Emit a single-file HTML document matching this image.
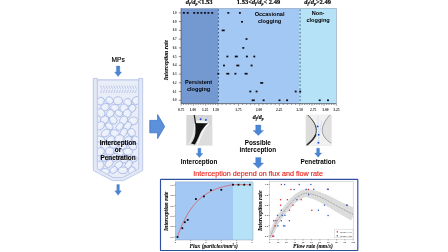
<!DOCTYPE html>
<html><head><meta charset="utf-8"><title>Graphical abstract</title>
<style>html,body{margin:0;padding:0;background:#fff}body{width:448px;height:252px;overflow:hidden}svg{display:block}text{white-space:pre}</style></head><body>
<svg width="448" height="252" viewBox="0 0 448 252">
<rect width="448" height="252" fill="#fff"/>
<g id="column">
<path d="M93.3 78.4 H97.2 V80 H138.8 V78.4 H142.7 V170.5 L123.5 180.6 H112.5 L93.3 170.5 Z" fill="#e3e8f6" stroke="#a6b5e0" stroke-width="0.65"/>
<path d="M97.3 80 H138.7 V168.8 L122.6 177.6 H113.4 L97.3 168.8 Z" fill="#e9edf8" stroke="#9fb0dd" stroke-width="0.6"/>
<path d="M100.50 85.6 l1.6 3.2 M100.50 93 l1.6 -3.2" stroke="#a9b9e3" stroke-width="0.7" fill="none"/>
<path d="M103.15 85.6 l1.6 3.2 M103.15 93 l1.6 -3.2" stroke="#a9b9e3" stroke-width="0.7" fill="none"/>
<path d="M105.80 85.6 l1.6 3.2 M105.80 93 l1.6 -3.2" stroke="#a9b9e3" stroke-width="0.7" fill="none"/>
<path d="M108.45 85.6 l1.6 3.2 M108.45 93 l1.6 -3.2" stroke="#a9b9e3" stroke-width="0.7" fill="none"/>
<path d="M111.10 85.6 l1.6 3.2 M111.10 93 l1.6 -3.2" stroke="#a9b9e3" stroke-width="0.7" fill="none"/>
<path d="M113.75 85.6 l1.6 3.2 M113.75 93 l1.6 -3.2" stroke="#a9b9e3" stroke-width="0.7" fill="none"/>
<path d="M116.40 85.6 l1.6 3.2 M116.40 93 l1.6 -3.2" stroke="#a9b9e3" stroke-width="0.7" fill="none"/>
<path d="M119.05 85.6 l1.6 3.2 M119.05 93 l1.6 -3.2" stroke="#a9b9e3" stroke-width="0.7" fill="none"/>
<path d="M121.70 85.6 l1.6 3.2 M121.70 93 l1.6 -3.2" stroke="#a9b9e3" stroke-width="0.7" fill="none"/>
<path d="M124.35 85.6 l1.6 3.2 M124.35 93 l1.6 -3.2" stroke="#a9b9e3" stroke-width="0.7" fill="none"/>
<path d="M127.00 85.6 l1.6 3.2 M127.00 93 l1.6 -3.2" stroke="#a9b9e3" stroke-width="0.7" fill="none"/>
<path d="M129.65 85.6 l1.6 3.2 M129.65 93 l1.6 -3.2" stroke="#a9b9e3" stroke-width="0.7" fill="none"/>
<path d="M132.30 85.6 l1.6 3.2 M132.30 93 l1.6 -3.2" stroke="#a9b9e3" stroke-width="0.7" fill="none"/>
<path d="M134.95 85.6 l1.6 3.2 M134.95 93 l1.6 -3.2" stroke="#a9b9e3" stroke-width="0.7" fill="none"/>
<defs><radialGradient id="pg" cx="0.42" cy="0.4" r="0.62"><stop offset="0" stop-color="#f1f4fb"/><stop offset="0.7" stop-color="#eaeef9"/><stop offset="1" stop-color="#d6def3"/></radialGradient></defs>
<clipPath id="cpc"><path d="M98.0 96 H138.0 V168.6 L122.4 177.0 H113.6 L98.0 168.6 Z"/></clipPath>
<g clip-path="url(#cpc)">
<ellipse cx="100.7" cy="101.1" rx="4.0" ry="3.6" transform="rotate(-56 100.7 101.1)" fill="url(#pg)" stroke="#9bb0e2" stroke-width="0.65"/>
<ellipse cx="109.6" cy="100.5" rx="4.0" ry="3.5" transform="rotate(39 109.6 100.5)" fill="url(#pg)" stroke="#9bb0e2" stroke-width="0.65"/>
<ellipse cx="118.0" cy="100.8" rx="4.6" ry="4.0" transform="rotate(9 118.0 100.8)" fill="url(#pg)" stroke="#9bb0e2" stroke-width="0.65"/>
<ellipse cx="127.7" cy="102.4" rx="4.0" ry="3.9" transform="rotate(-25 127.7 102.4)" fill="url(#pg)" stroke="#9bb0e2" stroke-width="0.65"/>
<ellipse cx="136.3" cy="100.6" rx="4.2" ry="3.9" transform="rotate(-38 136.3 100.6)" fill="url(#pg)" stroke="#9bb0e2" stroke-width="0.65"/>
<ellipse cx="105.0" cy="107.3" rx="4.5" ry="3.5" transform="rotate(-24 105.0 107.3)" fill="url(#pg)" stroke="#9bb0e2" stroke-width="0.65"/>
<ellipse cx="114.8" cy="108.1" rx="4.2" ry="3.6" transform="rotate(3 114.8 108.1)" fill="url(#pg)" stroke="#9bb0e2" stroke-width="0.65"/>
<ellipse cx="124.1" cy="108.2" rx="4.2" ry="4.1" transform="rotate(-46 124.1 108.2)" fill="url(#pg)" stroke="#9bb0e2" stroke-width="0.65"/>
<ellipse cx="132.3" cy="108.2" rx="4.1" ry="3.5" transform="rotate(-55 132.3 108.2)" fill="url(#pg)" stroke="#9bb0e2" stroke-width="0.65"/>
<ellipse cx="100.9" cy="113.1" rx="4.7" ry="3.7" transform="rotate(59 100.9 113.1)" fill="url(#pg)" stroke="#9bb0e2" stroke-width="0.65"/>
<ellipse cx="110.3" cy="113.6" rx="4.3" ry="3.7" transform="rotate(-57 110.3 113.6)" fill="url(#pg)" stroke="#9bb0e2" stroke-width="0.65"/>
<ellipse cx="118.7" cy="113.3" rx="4.0" ry="3.1" transform="rotate(32 118.7 113.3)" fill="url(#pg)" stroke="#9bb0e2" stroke-width="0.65"/>
<ellipse cx="127.2" cy="113.5" rx="4.3" ry="4.0" transform="rotate(-50 127.2 113.5)" fill="url(#pg)" stroke="#9bb0e2" stroke-width="0.65"/>
<ellipse cx="104.6" cy="119.8" rx="4.4" ry="3.6" transform="rotate(-28 104.6 119.8)" fill="url(#pg)" stroke="#9bb0e2" stroke-width="0.65"/>
<ellipse cx="113.3" cy="120.1" rx="4.3" ry="3.6" transform="rotate(54 113.3 120.1)" fill="url(#pg)" stroke="#9bb0e2" stroke-width="0.65"/>
<ellipse cx="123.7" cy="120.3" rx="4.6" ry="3.7" transform="rotate(-54 123.7 120.3)" fill="url(#pg)" stroke="#9bb0e2" stroke-width="0.65"/>
<ellipse cx="133.2" cy="120.9" rx="4.9" ry="3.9" transform="rotate(-13 133.2 120.9)" fill="url(#pg)" stroke="#9bb0e2" stroke-width="0.65"/>
<ellipse cx="100.3" cy="125.7" rx="4.9" ry="3.7" transform="rotate(-42 100.3 125.7)" fill="url(#pg)" stroke="#9bb0e2" stroke-width="0.65"/>
<ellipse cx="109.2" cy="126.3" rx="4.3" ry="3.1" transform="rotate(42 109.2 126.3)" fill="url(#pg)" stroke="#9bb0e2" stroke-width="0.65"/>
<ellipse cx="119.8" cy="126.5" rx="4.4" ry="3.1" transform="rotate(-48 119.8 126.5)" fill="url(#pg)" stroke="#9bb0e2" stroke-width="0.65"/>
<ellipse cx="127.6" cy="126.1" rx="4.8" ry="3.2" transform="rotate(-57 127.6 126.1)" fill="url(#pg)" stroke="#9bb0e2" stroke-width="0.65"/>
<ellipse cx="105.7" cy="133.0" rx="4.8" ry="3.4" transform="rotate(-33 105.7 133.0)" fill="url(#pg)" stroke="#9bb0e2" stroke-width="0.65"/>
<ellipse cx="114.9" cy="133.9" rx="4.8" ry="3.9" transform="rotate(38 114.9 133.9)" fill="url(#pg)" stroke="#9bb0e2" stroke-width="0.65"/>
<ellipse cx="123.8" cy="132.4" rx="4.5" ry="3.4" transform="rotate(-57 123.8 132.4)" fill="url(#pg)" stroke="#9bb0e2" stroke-width="0.65"/>
<ellipse cx="131.5" cy="132.5" rx="4.2" ry="3.8" transform="rotate(55 131.5 132.5)" fill="url(#pg)" stroke="#9bb0e2" stroke-width="0.65"/>
<ellipse cx="100.6" cy="139.5" rx="4.8" ry="3.1" transform="rotate(19 100.6 139.5)" fill="url(#pg)" stroke="#9bb0e2" stroke-width="0.65"/>
<ellipse cx="110.5" cy="139.8" rx="4.7" ry="3.5" transform="rotate(-39 110.5 139.8)" fill="url(#pg)" stroke="#9bb0e2" stroke-width="0.65"/>
<ellipse cx="119.4" cy="138.9" rx="4.8" ry="4.1" transform="rotate(-12 119.4 138.9)" fill="url(#pg)" stroke="#9bb0e2" stroke-width="0.65"/>
<ellipse cx="127.7" cy="140.1" rx="4.7" ry="3.2" transform="rotate(-45 127.7 140.1)" fill="url(#pg)" stroke="#9bb0e2" stroke-width="0.65"/>
<ellipse cx="136.3" cy="140.0" rx="4.8" ry="3.2" transform="rotate(39 136.3 140.0)" fill="url(#pg)" stroke="#9bb0e2" stroke-width="0.65"/>
<ellipse cx="105.2" cy="146.4" rx="4.4" ry="4.0" transform="rotate(39 105.2 146.4)" fill="url(#pg)" stroke="#9bb0e2" stroke-width="0.65"/>
<ellipse cx="113.7" cy="145.0" rx="4.2" ry="3.3" transform="rotate(10 113.7 145.0)" fill="url(#pg)" stroke="#9bb0e2" stroke-width="0.65"/>
<ellipse cx="122.9" cy="145.3" rx="4.0" ry="4.0" transform="rotate(-18 122.9 145.3)" fill="url(#pg)" stroke="#9bb0e2" stroke-width="0.65"/>
<ellipse cx="132.4" cy="145.7" rx="4.9" ry="3.5" transform="rotate(50 132.4 145.7)" fill="url(#pg)" stroke="#9bb0e2" stroke-width="0.65"/>
<ellipse cx="100.3" cy="151.8" rx="4.5" ry="3.9" transform="rotate(-47 100.3 151.8)" fill="url(#pg)" stroke="#9bb0e2" stroke-width="0.65"/>
<ellipse cx="109.8" cy="151.3" rx="4.2" ry="3.8" transform="rotate(1 109.8 151.3)" fill="url(#pg)" stroke="#9bb0e2" stroke-width="0.65"/>
<ellipse cx="118.9" cy="152.3" rx="4.9" ry="3.5" transform="rotate(14 118.9 152.3)" fill="url(#pg)" stroke="#9bb0e2" stroke-width="0.65"/>
<ellipse cx="127.9" cy="151.8" rx="4.7" ry="3.5" transform="rotate(4 127.9 151.8)" fill="url(#pg)" stroke="#9bb0e2" stroke-width="0.65"/>
<ellipse cx="104.3" cy="157.6" rx="4.0" ry="3.7" transform="rotate(34 104.3 157.6)" fill="url(#pg)" stroke="#9bb0e2" stroke-width="0.65"/>
<ellipse cx="115.0" cy="157.4" rx="4.7" ry="3.7" transform="rotate(-43 115.0 157.4)" fill="url(#pg)" stroke="#9bb0e2" stroke-width="0.65"/>
<ellipse cx="124.1" cy="159.0" rx="4.1" ry="4.0" transform="rotate(-12 124.1 159.0)" fill="url(#pg)" stroke="#9bb0e2" stroke-width="0.65"/>
<ellipse cx="132.4" cy="159.1" rx="4.8" ry="3.2" transform="rotate(-8 132.4 159.1)" fill="url(#pg)" stroke="#9bb0e2" stroke-width="0.65"/>
<ellipse cx="99.7" cy="165.4" rx="4.8" ry="4.1" transform="rotate(-47 99.7 165.4)" fill="url(#pg)" stroke="#9bb0e2" stroke-width="0.65"/>
<ellipse cx="109.2" cy="163.5" rx="4.8" ry="3.3" transform="rotate(-44 109.2 163.5)" fill="url(#pg)" stroke="#9bb0e2" stroke-width="0.65"/>
<ellipse cx="118.6" cy="165.2" rx="4.8" ry="3.3" transform="rotate(-42 118.6 165.2)" fill="url(#pg)" stroke="#9bb0e2" stroke-width="0.65"/>
<ellipse cx="128.7" cy="164.5" rx="4.7" ry="3.1" transform="rotate(-53 128.7 164.5)" fill="url(#pg)" stroke="#9bb0e2" stroke-width="0.65"/>
<ellipse cx="105.3" cy="171.6" rx="4.2" ry="3.1" transform="rotate(3 105.3 171.6)" fill="url(#pg)" stroke="#9bb0e2" stroke-width="0.65"/>
<ellipse cx="113.7" cy="169.9" rx="4.1" ry="3.1" transform="rotate(-36 113.7 169.9)" fill="url(#pg)" stroke="#9bb0e2" stroke-width="0.65"/>
<ellipse cx="123.0" cy="170.3" rx="4.7" ry="3.3" transform="rotate(0 123.0 170.3)" fill="url(#pg)" stroke="#9bb0e2" stroke-width="0.65"/>
<ellipse cx="131.8" cy="170.4" rx="3.9" ry="3.3" transform="rotate(-58 131.8 170.4)" fill="url(#pg)" stroke="#9bb0e2" stroke-width="0.65"/>
</g>
</g>
<text x="118.2" y="62.2" font-size="6.6" text-anchor="middle" font-family="Liberation Sans, sans-serif" fill="#000" stroke="#000" stroke-width="0.15">MPs</text>
<polygon points="116.40,66.00 119.80,66.00 119.80,72.00 121.60,72.00 118.10,76.60 114.60,72.00 116.40,72.00" fill="#4a86d4" stroke="#3a72c0" stroke-width="0.3"/>
<polygon points="116.80,184.60 119.40,184.60 119.40,190.80 121.40,190.80 118.10,195.20 114.80,190.80 116.80,190.80" fill="#4a86d4" stroke="#3a72c0" stroke-width="0.3"/>
<text x="118" y="144.6" font-size="6.4" font-weight="bold" text-anchor="middle" font-family="Liberation Sans, sans-serif" fill="#000" stroke="#000" stroke-width="0.12">Interception</text>
<text x="118" y="152.0" font-size="6.4" font-weight="bold" text-anchor="middle" font-family="Liberation Sans, sans-serif" fill="#000" stroke="#000" stroke-width="0.12">or</text>
<text x="118" y="159.6" font-size="6.4" font-weight="bold" text-anchor="middle" font-family="Liberation Sans, sans-serif" fill="#000" stroke="#000" stroke-width="0.12">Penetration</text>
<polygon points="149.8,120.4 157.6,120.4 157.6,114.6 164.7,126.6 157.6,138.6 157.6,132.8 149.8,132.8" fill="#5b90da" stroke="#3f74c4" stroke-width="0.8" stroke-linejoin="miter"/>
<g id="topchart">
<rect x="181.1" y="8.4" width="36.9" height="95.3" fill="#7499d1"/>
<rect x="218.0" y="8.4" width="81.7" height="95.3" fill="#a3c8f3"/>
<rect x="299.7" y="8.4" width="36.7" height="95.3" fill="#b5e2f7"/>
<rect x="181.1" y="8.4" width="155.3" height="95.3" fill="none" stroke="#7f8fa8" stroke-width="0.5"/>
<line x1="218.45" y1="9.4" x2="218.45" y2="103.7" stroke="#34507f" stroke-width="0.95" stroke-dasharray="1.7 2.05"/>
<line x1="300.05" y1="9.4" x2="300.05" y2="103.7" stroke="#3d5878" stroke-width="0.95" stroke-dasharray="1.7 2.05"/>
<line x1="181.1" y1="8.4" x2="181.1" y2="103.7" stroke="#333" stroke-width="0.5"/>
<line x1="181.1" y1="103.7" x2="336.4" y2="103.7" stroke="#333" stroke-width="0.5"/>
<line x1="178.8" y1="100.30" x2="181.1" y2="100.30" stroke="#222" stroke-width="0.5"/>
<text x="176.6" y="101.35" font-size="3.1" font-weight="bold" text-anchor="end" font-family="Liberation Serif, serif" fill="#222">0.0</text>
<line x1="178.8" y1="91.56" x2="181.1" y2="91.56" stroke="#222" stroke-width="0.5"/>
<text x="176.6" y="92.61" font-size="3.1" font-weight="bold" text-anchor="end" font-family="Liberation Serif, serif" fill="#222">0.1</text>
<line x1="178.8" y1="82.82" x2="181.1" y2="82.82" stroke="#222" stroke-width="0.5"/>
<text x="176.6" y="83.87" font-size="3.1" font-weight="bold" text-anchor="end" font-family="Liberation Serif, serif" fill="#222">0.2</text>
<line x1="178.8" y1="74.08" x2="181.1" y2="74.08" stroke="#222" stroke-width="0.5"/>
<text x="176.6" y="75.13" font-size="3.1" font-weight="bold" text-anchor="end" font-family="Liberation Serif, serif" fill="#222">0.3</text>
<line x1="178.8" y1="65.34" x2="181.1" y2="65.34" stroke="#222" stroke-width="0.5"/>
<text x="176.6" y="66.39" font-size="3.1" font-weight="bold" text-anchor="end" font-family="Liberation Serif, serif" fill="#222">0.4</text>
<line x1="178.8" y1="56.60" x2="181.1" y2="56.60" stroke="#222" stroke-width="0.5"/>
<text x="176.6" y="57.65" font-size="3.1" font-weight="bold" text-anchor="end" font-family="Liberation Serif, serif" fill="#222">0.5</text>
<line x1="178.8" y1="47.86" x2="181.1" y2="47.86" stroke="#222" stroke-width="0.5"/>
<text x="176.6" y="48.91" font-size="3.1" font-weight="bold" text-anchor="end" font-family="Liberation Serif, serif" fill="#222">0.6</text>
<line x1="178.8" y1="39.12" x2="181.1" y2="39.12" stroke="#222" stroke-width="0.5"/>
<text x="176.6" y="40.17" font-size="3.1" font-weight="bold" text-anchor="end" font-family="Liberation Serif, serif" fill="#222">0.7</text>
<line x1="178.8" y1="30.38" x2="181.1" y2="30.38" stroke="#222" stroke-width="0.5"/>
<text x="176.6" y="31.43" font-size="3.1" font-weight="bold" text-anchor="end" font-family="Liberation Serif, serif" fill="#222">0.8</text>
<line x1="178.8" y1="21.64" x2="181.1" y2="21.64" stroke="#222" stroke-width="0.5"/>
<text x="176.6" y="22.69" font-size="3.1" font-weight="bold" text-anchor="end" font-family="Liberation Serif, serif" fill="#222">0.9</text>
<line x1="178.8" y1="12.90" x2="181.1" y2="12.90" stroke="#222" stroke-width="0.5"/>
<text x="176.6" y="13.95" font-size="3.1" font-weight="bold" text-anchor="end" font-family="Liberation Serif, serif" fill="#222">1.0</text>
<line x1="181.10" y1="103.7" x2="181.10" y2="105.8" stroke="#222" stroke-width="0.4"/>
<text x="181.10" y="111.35" font-size="3.6" font-weight="bold" text-anchor="middle" font-family="Liberation Serif, serif" fill="#222">0.75</text>
<line x1="183.56" y1="103.7" x2="183.56" y2="105.0" stroke="#222" stroke-width="0.4"/>
<line x1="186.02" y1="103.7" x2="186.02" y2="105.0" stroke="#222" stroke-width="0.4"/>
<line x1="188.48" y1="103.7" x2="188.48" y2="105.0" stroke="#222" stroke-width="0.4"/>
<line x1="190.94" y1="103.7" x2="190.94" y2="105.0" stroke="#222" stroke-width="0.4"/>
<line x1="193.40" y1="103.7" x2="193.40" y2="105.8" stroke="#222" stroke-width="0.4"/>
<text x="192.90" y="111.35" font-size="3.6" font-weight="bold" text-anchor="middle" font-family="Liberation Serif, serif" fill="#222">1.00</text>
<line x1="195.86" y1="103.7" x2="195.86" y2="105.0" stroke="#222" stroke-width="0.4"/>
<line x1="198.32" y1="103.7" x2="198.32" y2="105.0" stroke="#222" stroke-width="0.4"/>
<line x1="200.78" y1="103.7" x2="200.78" y2="105.0" stroke="#222" stroke-width="0.4"/>
<line x1="203.24" y1="103.7" x2="203.24" y2="105.0" stroke="#222" stroke-width="0.4"/>
<line x1="205.70" y1="103.7" x2="205.70" y2="105.8" stroke="#222" stroke-width="0.4"/>
<text x="205.20" y="111.35" font-size="3.6" font-weight="bold" text-anchor="middle" font-family="Liberation Serif, serif" fill="#222">1.25</text>
<line x1="208.16" y1="103.7" x2="208.16" y2="105.0" stroke="#222" stroke-width="0.4"/>
<line x1="210.62" y1="103.7" x2="210.62" y2="105.0" stroke="#222" stroke-width="0.4"/>
<line x1="213.08" y1="103.7" x2="213.08" y2="105.0" stroke="#222" stroke-width="0.4"/>
<line x1="215.54" y1="103.7" x2="215.54" y2="105.0" stroke="#222" stroke-width="0.4"/>
<line x1="218.00" y1="103.7" x2="218.00" y2="105.8" stroke="#222" stroke-width="0.4"/>
<text x="216.00" y="111.35" font-size="3.6" font-weight="bold" text-anchor="middle" font-family="Liberation Serif, serif" fill="#222">1.50</text>
<line x1="222.09" y1="103.7" x2="222.09" y2="105.0" stroke="#222" stroke-width="0.4"/>
<line x1="226.17" y1="103.7" x2="226.17" y2="105.0" stroke="#222" stroke-width="0.4"/>
<line x1="230.25" y1="103.7" x2="230.25" y2="105.0" stroke="#222" stroke-width="0.4"/>
<line x1="234.34" y1="103.7" x2="234.34" y2="105.0" stroke="#222" stroke-width="0.4"/>
<line x1="238.43" y1="103.7" x2="238.43" y2="105.8" stroke="#222" stroke-width="0.4"/>
<text x="238.43" y="111.35" font-size="3.6" font-weight="bold" text-anchor="middle" font-family="Liberation Serif, serif" fill="#222">1.75</text>
<line x1="242.51" y1="103.7" x2="242.51" y2="105.0" stroke="#222" stroke-width="0.4"/>
<line x1="246.59" y1="103.7" x2="246.59" y2="105.0" stroke="#222" stroke-width="0.4"/>
<line x1="250.68" y1="103.7" x2="250.68" y2="105.0" stroke="#222" stroke-width="0.4"/>
<line x1="254.76" y1="103.7" x2="254.76" y2="105.0" stroke="#222" stroke-width="0.4"/>
<line x1="258.85" y1="103.7" x2="258.85" y2="105.8" stroke="#222" stroke-width="0.4"/>
<text x="258.85" y="111.35" font-size="3.6" font-weight="bold" text-anchor="middle" font-family="Liberation Serif, serif" fill="#222">2.00</text>
<line x1="262.94" y1="103.7" x2="262.94" y2="105.0" stroke="#222" stroke-width="0.4"/>
<line x1="267.02" y1="103.7" x2="267.02" y2="105.0" stroke="#222" stroke-width="0.4"/>
<line x1="271.10" y1="103.7" x2="271.10" y2="105.0" stroke="#222" stroke-width="0.4"/>
<line x1="275.19" y1="103.7" x2="275.19" y2="105.0" stroke="#222" stroke-width="0.4"/>
<line x1="279.27" y1="103.7" x2="279.27" y2="105.8" stroke="#222" stroke-width="0.4"/>
<text x="279.27" y="111.35" font-size="3.6" font-weight="bold" text-anchor="middle" font-family="Liberation Serif, serif" fill="#222">2.25</text>
<line x1="283.36" y1="103.7" x2="283.36" y2="105.0" stroke="#222" stroke-width="0.4"/>
<line x1="287.44" y1="103.7" x2="287.44" y2="105.0" stroke="#222" stroke-width="0.4"/>
<line x1="291.53" y1="103.7" x2="291.53" y2="105.0" stroke="#222" stroke-width="0.4"/>
<line x1="295.62" y1="103.7" x2="295.62" y2="105.0" stroke="#222" stroke-width="0.4"/>
<line x1="299.70" y1="103.7" x2="299.70" y2="105.8" stroke="#222" stroke-width="0.4"/>
<text x="299.70" y="111.35" font-size="3.6" font-weight="bold" text-anchor="middle" font-family="Liberation Serif, serif" fill="#222">2.50</text>
<line x1="302.15" y1="103.7" x2="302.15" y2="105.0" stroke="#222" stroke-width="0.4"/>
<line x1="304.59" y1="103.7" x2="304.59" y2="105.0" stroke="#222" stroke-width="0.4"/>
<line x1="307.04" y1="103.7" x2="307.04" y2="105.0" stroke="#222" stroke-width="0.4"/>
<line x1="309.49" y1="103.7" x2="309.49" y2="105.0" stroke="#222" stroke-width="0.4"/>
<line x1="311.93" y1="103.7" x2="311.93" y2="105.8" stroke="#222" stroke-width="0.4"/>
<text x="313.13" y="111.35" font-size="3.6" font-weight="bold" text-anchor="middle" font-family="Liberation Serif, serif" fill="#222">2.75</text>
<line x1="314.38" y1="103.7" x2="314.38" y2="105.0" stroke="#222" stroke-width="0.4"/>
<line x1="316.83" y1="103.7" x2="316.83" y2="105.0" stroke="#222" stroke-width="0.4"/>
<line x1="319.27" y1="103.7" x2="319.27" y2="105.0" stroke="#222" stroke-width="0.4"/>
<line x1="321.72" y1="103.7" x2="321.72" y2="105.0" stroke="#222" stroke-width="0.4"/>
<line x1="324.17" y1="103.7" x2="324.17" y2="105.8" stroke="#222" stroke-width="0.4"/>
<text x="325.47" y="111.35" font-size="3.6" font-weight="bold" text-anchor="middle" font-family="Liberation Serif, serif" fill="#222">3.00</text>
<line x1="326.61" y1="103.7" x2="326.61" y2="105.0" stroke="#222" stroke-width="0.4"/>
<line x1="329.06" y1="103.7" x2="329.06" y2="105.0" stroke="#222" stroke-width="0.4"/>
<line x1="331.51" y1="103.7" x2="331.51" y2="105.0" stroke="#222" stroke-width="0.4"/>
<line x1="333.95" y1="103.7" x2="333.95" y2="105.0" stroke="#222" stroke-width="0.4"/>
<line x1="336.40" y1="103.7" x2="336.40" y2="105.8" stroke="#222" stroke-width="0.4"/>
<text x="336.40" y="111.35" font-size="3.6" font-weight="bold" text-anchor="middle" font-family="Liberation Serif, serif" fill="#222">3.25</text>
<rect x="182.95" y="12.05" width="1.9" height="1.7" fill="#0a0a14"/>
<rect x="186.75" y="12.05" width="1.9" height="1.7" fill="#0a0a14"/>
<rect x="193.25" y="12.05" width="1.9" height="1.7" fill="#0a0a14"/>
<rect x="196.85" y="12.05" width="1.9" height="1.7" fill="#0a0a14"/>
<rect x="200.45" y="12.05" width="1.9" height="1.7" fill="#0a0a14"/>
<rect x="204.05" y="12.05" width="1.9" height="1.7" fill="#0a0a14"/>
<rect x="207.45" y="12.05" width="1.9" height="1.7" fill="#0a0a14"/>
<rect x="211.25" y="12.05" width="1.9" height="1.7" fill="#0a0a14"/>
<rect x="227.35" y="12.05" width="1.9" height="1.7" fill="#0a0a14"/>
<rect x="238.95" y="12.05" width="1.9" height="1.7" fill="#0a0a14"/>
<rect x="241.05" y="20.95" width="1.9" height="1.7" fill="#0a0a14"/>
<rect x="221.70" y="29.55" width="3.0" height="1.7" fill="#0a0a14"/>
<rect x="245.55" y="38.15" width="1.9" height="1.7" fill="#0a0a14"/>
<rect x="242.35" y="47.05" width="1.9" height="1.7" fill="#0a0a14"/>
<rect x="226.45" y="55.65" width="1.9" height="1.7" fill="#0a0a14"/>
<rect x="234.80" y="55.65" width="3.0" height="1.7" fill="#0a0a14"/>
<rect x="245.95" y="55.65" width="1.9" height="1.7" fill="#0a0a14"/>
<rect x="253.35" y="55.65" width="1.9" height="1.7" fill="#0a0a14"/>
<rect x="223.05" y="64.65" width="1.9" height="1.7" fill="#0a0a14"/>
<rect x="236.30" y="64.65" width="3.0" height="1.7" fill="#0a0a14"/>
<rect x="250.65" y="64.65" width="1.9" height="1.7" fill="#0a0a14"/>
<rect x="217.35" y="72.85" width="1.9" height="1.7" fill="#0a0a14"/>
<rect x="226.30" y="72.85" width="3.0" height="1.7" fill="#0a0a14"/>
<rect x="234.45" y="72.85" width="1.9" height="1.7" fill="#0a0a14"/>
<rect x="244.60" y="72.85" width="3.0" height="1.7" fill="#0a0a14"/>
<rect x="260.20" y="82.05" width="3.0" height="1.7" fill="#0a0a14"/>
<rect x="249.35" y="90.65" width="1.9" height="1.7" fill="#0a0a14"/>
<rect x="255.65" y="90.65" width="1.9" height="1.7" fill="#0a0a14"/>
<rect x="294.75" y="90.65" width="1.9" height="1.7" fill="#0a0a14"/>
<rect x="299.25" y="90.65" width="1.9" height="1.7" fill="#0a0a14"/>
<rect x="251.70" y="99.45" width="3.0" height="1.7" fill="#0a0a14"/>
<rect x="262.65" y="99.45" width="1.9" height="1.7" fill="#0a0a14"/>
<rect x="278.55" y="99.45" width="1.9" height="1.7" fill="#0a0a14"/>
<rect x="286.15" y="99.45" width="1.9" height="1.7" fill="#0a0a14"/>
<rect x="318.75" y="99.45" width="1.9" height="1.7" fill="#0a0a14"/>
<rect x="327.05" y="99.45" width="1.9" height="1.7" fill="#0a0a14"/>
<text x="198.6" y="84.0" font-size="5.6" font-weight="bold" text-anchor="middle" font-family="Liberation Sans, sans-serif" fill="#000">Persistent</text>
<text x="198.6" y="90.8" font-size="5.6" font-weight="bold" text-anchor="middle" font-family="Liberation Sans, sans-serif" fill="#000">clogging</text>
<text x="269.6" y="16.2" font-size="5.6" font-weight="bold" text-anchor="middle" font-family="Liberation Sans, sans-serif" fill="#000">Occasional</text>
<text x="269.6" y="22.9" font-size="5.6" font-weight="bold" text-anchor="middle" font-family="Liberation Sans, sans-serif" fill="#000">clogging</text>
<text x="318.1" y="15.0" font-size="5.6" font-weight="bold" text-anchor="middle" font-family="Liberation Sans, sans-serif" fill="#000">Non-</text>
<text x="318.1" y="21.5" font-size="5.6" font-weight="bold" text-anchor="middle" font-family="Liberation Sans, sans-serif" fill="#000">clogging</text>
<text x="199.2" y="4.4" font-size="6.5" font-weight="bold" text-anchor="middle" font-family="Liberation Serif, serif" fill="#0a0a0a" stroke="#0a0a0a" stroke-width="0.18"><tspan font-style="italic">d</tspan><tspan font-style="italic" font-size="4.0" dy="1.0">f</tspan><tspan dy="-1.0">/</tspan><tspan font-style="italic">d</tspan><tspan font-style="italic" font-size="4.0" dy="1.0">p</tspan><tspan dy="-1.0">&lt;1.53</tspan></text>
<text x="258.5" y="4.4" font-size="6.5" font-weight="bold" text-anchor="middle" font-family="Liberation Serif, serif" fill="#0a0a0a" stroke="#0a0a0a" stroke-width="0.18">1.53&lt;<tspan font-style="italic">d</tspan><tspan font-style="italic" font-size="4.0" dy="1.0">f</tspan><tspan dy="-1.0">/</tspan><tspan font-style="italic">d</tspan><tspan font-style="italic" font-size="4.0" dy="1.0">p</tspan><tspan dy="-1.0">&lt; 2.49</tspan></text>
<text x="317.6" y="4.4" font-size="6.5" font-weight="bold" text-anchor="middle" font-family="Liberation Serif, serif" fill="#0a0a0a" stroke="#0a0a0a" stroke-width="0.18"><tspan font-style="italic">d</tspan><tspan font-style="italic" font-size="4.0" dy="1.0">f</tspan><tspan dy="-1.0">/</tspan><tspan font-style="italic">d</tspan><tspan font-style="italic" font-size="4.0" dy="1.0">p</tspan><tspan dy="-1.0">&gt;2.49</tspan></text>
<text transform="translate(168.3 60) rotate(-90)" font-size="5.85" font-weight="bold" font-style="italic" text-anchor="middle" font-family="Liberation Serif, serif" fill="#0a0a0a" stroke="#0a0a0a" stroke-width="0.08">Interception rate</text>
<text x="258.2" y="119.4" font-size="6.0" font-weight="bold" text-anchor="middle" font-family="Liberation Serif, serif" fill="#0a0a0a" stroke="#0a0a0a" stroke-width="0.18"><tspan font-style="italic">d</tspan><tspan font-style="italic" font-size="3.7" dy="0.6">f</tspan><tspan dy="-0.6">/</tspan><tspan font-style="italic">d</tspan><tspan font-style="italic" font-size="3.7" dy="0.6">p</tspan><tspan dy="-0.6"></tspan></text>
</g>
<g id="micro1">
<rect x="186.3" y="115.0" width="25.9" height="30.4" fill="#d7d7d7"/>
<path d="M196 115 H212.2 V126.5 C207 128 203.5 133 200.5 145.2 H212.2 V115" fill="#e7e7e7"/>
<path d="M207 126.5 C203 131 199.8 138 197.6 145.2 H212.2 V125 Z" fill="#dddddd"/>
<path d="M208.8 123.6 C204.2 127.5 200.6 135.5 197.2 144.8" fill="none" stroke="#fafafa" stroke-width="1.3"/>
<path d="M194.6 124 C194.8 131 193 138 188.4 144.6" fill="none" stroke="#f4f4f4" stroke-width="1.0"/>
<path d="M194.3 115 C194.9 119 195.2 121.5 195.6 123.6" fill="none" stroke="#262626" stroke-width="1.3"/>
<path d="M195.2 123.0 L207.9 123.2 C204.5 126 201.8 130 200.1 133.5 C198.6 137 197.3 140.5 194.9 144.4 L191.0 143.6 C193.2 140.8 195.0 137.5 195.4 133.5 C195.7 130 195.6 126.5 195.2 123.0 Z" fill="#111"/>
<path d="M196.6 120.6 h10.6 v2.5 h-10.6z" fill="#f4f4f4"/>
<path d="M200.65 119.2 l2.0 -4 M205.9 120.0 l2.2 -4" stroke="#9cc0f0" stroke-width="0.6"/>
<circle cx="200.65" cy="119.3" r="1.0" fill="#1f4fd0"/><circle cx="205.9" cy="120.1" r="1.0" fill="#1f4fd0"/>
</g>
<polygon points="197.95,148.20 200.85,148.20 200.85,153.40 202.90,153.40 199.40,157.60 195.90,153.40 197.95,153.40" fill="#4a86d4" stroke="#3a72c0" stroke-width="0.3"/>
<text x="199.1" y="163.8" font-size="6.4" font-weight="bold" text-anchor="middle" font-family="Liberation Sans, sans-serif" fill="#000">Interception</text>
<g id="micro2">
<rect x="305.7" y="114.8" width="25.7" height="30.9" fill="#dcdcdc"/>
<path d="M331.4 114.8 H329.8 C326.5 119 322.3 124 322.3 130.5 C322.3 136 326.5 140.5 331.4 143.2 Z" fill="#e1e1e1"/>
<path d="M308.3 114.8 C312 119 316.3 124 316.3 130.5 C316.3 137 311 142 306.6 145.7 H331.4 V143.2 C326.5 140.5 322.3 136 322.3 130.5 C322.3 124 326.5 119 329.8 114.8 Z" fill="#f1f1f1"/>
<path d="M308.0 115.2 C311.8 119.3 316.3 124 316.3 130.5 C316.3 137 311 142 306.6 145.3" fill="none" stroke="#3c3c3c" stroke-width="1.0"/>
<path d="M315.9 134.5 C314.5 138.5 310.5 142 306.9 145" fill="none" stroke="#2a2a2a" stroke-width="1.5"/>
<path d="M329.8 115 C326.5 119 322.3 124 322.3 130.5 C322.3 136 326.5 140.5 331.2 143.1" fill="none" stroke="#8c8c8c" stroke-width="0.8"/>
<path d="M317.9 116 L318.9 143.5 M321.6 120.5 L319.6 134" stroke="#8fb8ee" stroke-width="0.5" stroke-dasharray="0.8 0.7"/>
<circle cx="317.6" cy="126.4" r="0.95" fill="#1f4fd0"/><circle cx="318.7" cy="134.7" r="0.95" fill="#1f4fd0"/><circle cx="318.4" cy="142.8" r="0.95" fill="#1f4fd0"/>
</g>
<polygon points="316.65,148.20 319.55,148.20 319.55,153.00 321.60,153.00 318.10,157.20 314.60,153.00 316.65,153.00" fill="#4a86d4" stroke="#3a72c0" stroke-width="0.3"/>
<text x="318.0" y="163.8" font-size="6.4" font-weight="bold" text-anchor="middle" font-family="Liberation Sans, sans-serif" fill="#000">Penetration</text>
<polygon points="255.70,125.10 260.90,125.10 260.90,130.40 263.60,130.40 258.30,135.60 253.00,130.40 255.70,130.40" fill="#4a86d4" stroke="#3a72c0" stroke-width="0.3"/>
<text x="257.8" y="144.8" font-size="6.4" font-weight="bold" text-anchor="middle" font-family="Liberation Sans, sans-serif" fill="#000">Possible</text>
<text x="257.8" y="152.1" font-size="6.4" font-weight="bold" text-anchor="middle" font-family="Liberation Sans, sans-serif" fill="#000">interception</text>
<polygon points="255.70,157.60 260.90,157.60 260.90,163.10 263.60,163.10 258.30,168.30 253.00,163.10 255.70,163.10" fill="#4a86d4" stroke="#3a72c0" stroke-width="0.3"/>
<text x="258.2" y="176.2" font-size="7.2" text-anchor="middle" font-family="Liberation Sans, sans-serif" fill="#ea1a12" stroke="#ea1a12" stroke-width="0.12">Interception depend on flux and flow rate</text>
<rect x="160.5" y="179.3" width="197.3" height="71.2" rx="0.6" fill="#fff" stroke="#2f4f9f" stroke-width="1.15"/>
<rect x="175.3" y="181.9" width="57.7" height="58.1" fill="#a3c8f3"/>
<rect x="233.0" y="181.9" width="20.0" height="58.1" fill="#b5e2f7"/>
<rect x="175.3" y="181.9" width="77.7" height="58.1" fill="none" stroke="#8a93a8" stroke-width="0.4"/>
<line x1="174.2" y1="236.90" x2="175.3" y2="236.90" stroke="#222" stroke-width="0.4"/>
<text x="173.7" y="237.70" font-size="2.7" font-weight="bold" text-anchor="end" font-family="Liberation Serif, serif" fill="#222">0.0</text>
<line x1="174.2" y1="226.52" x2="175.3" y2="226.52" stroke="#222" stroke-width="0.4"/>
<text x="173.7" y="227.32" font-size="2.7" font-weight="bold" text-anchor="end" font-family="Liberation Serif, serif" fill="#222">0.2</text>
<line x1="174.2" y1="216.14" x2="175.3" y2="216.14" stroke="#222" stroke-width="0.4"/>
<text x="173.7" y="216.94" font-size="2.7" font-weight="bold" text-anchor="end" font-family="Liberation Serif, serif" fill="#222">0.4</text>
<line x1="174.2" y1="205.76" x2="175.3" y2="205.76" stroke="#222" stroke-width="0.4"/>
<text x="173.7" y="206.56" font-size="2.7" font-weight="bold" text-anchor="end" font-family="Liberation Serif, serif" fill="#222">0.6</text>
<line x1="174.2" y1="195.38" x2="175.3" y2="195.38" stroke="#222" stroke-width="0.4"/>
<text x="173.7" y="196.18" font-size="2.7" font-weight="bold" text-anchor="end" font-family="Liberation Serif, serif" fill="#222">0.8</text>
<line x1="174.2" y1="185.00" x2="175.3" y2="185.00" stroke="#222" stroke-width="0.4"/>
<text x="173.7" y="185.80" font-size="2.7" font-weight="bold" text-anchor="end" font-family="Liberation Serif, serif" fill="#222">1.0</text>
<line x1="175.40" y1="240" x2="175.40" y2="241" stroke="#222" stroke-width="0.4"/>
<text x="175.40" y="243.4" font-size="2.7" font-weight="bold" text-anchor="middle" font-family="Liberation Serif, serif" fill="#222">0</text>
<line x1="190.70" y1="240" x2="190.70" y2="241" stroke="#222" stroke-width="0.4"/>
<text x="190.70" y="243.4" font-size="2.7" font-weight="bold" text-anchor="middle" font-family="Liberation Serif, serif" fill="#222">1</text>
<line x1="206.00" y1="240" x2="206.00" y2="241" stroke="#222" stroke-width="0.4"/>
<text x="206.00" y="243.4" font-size="2.7" font-weight="bold" text-anchor="middle" font-family="Liberation Serif, serif" fill="#222">2</text>
<line x1="221.30" y1="240" x2="221.30" y2="241" stroke="#222" stroke-width="0.4"/>
<text x="221.30" y="243.4" font-size="2.7" font-weight="bold" text-anchor="middle" font-family="Liberation Serif, serif" fill="#222">3</text>
<line x1="236.60" y1="240" x2="236.60" y2="241" stroke="#222" stroke-width="0.4"/>
<text x="236.60" y="243.4" font-size="2.7" font-weight="bold" text-anchor="middle" font-family="Liberation Serif, serif" fill="#222">4</text>
<line x1="251.90" y1="240" x2="251.90" y2="241" stroke="#222" stroke-width="0.4"/>
<text x="251.90" y="243.4" font-size="2.7" font-weight="bold" text-anchor="middle" font-family="Liberation Serif, serif" fill="#222">5</text>
<path d="M177.40 236.90 L178.34 234.25 L179.28 231.73 L180.23 229.33 L181.17 227.04 L182.11 224.86 L183.05 222.79 L184.00 220.82 L184.94 218.94 L185.88 217.15 L186.82 215.45 L187.77 213.83 L188.71 212.29 L189.65 210.82 L190.59 209.42 L191.54 208.09 L192.48 206.82 L193.42 205.61 L194.36 204.46 L195.31 203.37 L196.25 202.33 L197.19 201.34 L198.13 200.39 L199.07 199.50 L200.02 198.64 L200.96 197.83 L201.90 197.05 L202.84 196.31 L203.79 195.61 L204.73 194.94 L205.67 194.30 L206.61 193.70 L207.56 193.12 L208.50 192.57 L209.44 192.05 L210.38 191.55 L211.33 191.07 L212.27 190.62 L213.21 190.19 L214.15 189.78 L215.09 189.39 L216.04 189.02 L216.98 188.67 L217.92 188.33 L218.86 188.01 L219.81 187.71 L220.75 187.42 L221.69 187.14 L222.63 186.88 L223.58 186.63 L224.52 186.39 L225.46 186.16 L226.40 185.95 L227.35 185.74 L228.29 185.55 L229.23 185.36 L230.17 185.18 L231.12 185.01 L232.06 184.85 L233.00 184.70 L250 184.7" fill="none" stroke="#e24d4d" stroke-width="0.7"/>
<rect x="176.60" y="236.10" width="1.8" height="1.8" fill="#0a0a14"/>
<rect x="181.40" y="227.30" width="1.8" height="1.8" fill="#0a0a14"/>
<rect x="183.90" y="221.30" width="1.8" height="1.8" fill="#0a0a14"/>
<rect x="186.80" y="219.00" width="1.8" height="1.8" fill="#0a0a14"/>
<rect x="195.00" y="198.10" width="1.8" height="1.8" fill="#0a0a14"/>
<rect x="203.00" y="195.50" width="1.8" height="1.8" fill="#0a0a14"/>
<rect x="210.00" y="189.20" width="1.8" height="1.8" fill="#0a0a14"/>
<rect x="220.40" y="188.90" width="1.8" height="1.8" fill="#0a0a14"/>
<rect x="232.10" y="183.80" width="1.8" height="1.8" fill="#0a0a14"/>
<rect x="237.60" y="183.80" width="1.8" height="1.8" fill="#0a0a14"/>
<rect x="243.30" y="183.80" width="1.8" height="1.8" fill="#0a0a14"/>
<rect x="249.00" y="183.80" width="1.8" height="1.8" fill="#0a0a14"/>
<text transform="translate(167.7 211.3) rotate(-90)" font-size="5.7" font-weight="bold" font-style="italic" text-anchor="middle" font-family="Liberation Serif, serif" fill="#0a0a0a" stroke="#0a0a0a" stroke-width="0.08">Interception rate</text>
<text x="213.7" y="247.7" font-size="5.45" font-weight="bold" font-style="italic" text-anchor="middle" font-family="Liberation Serif, serif" fill="#0a0a0a" stroke="#0a0a0a" stroke-width="0.08">Flux (particles/mm<tspan font-size="3" dy="-1.6">2</tspan><tspan dy="1.6">s)</tspan></text>
<rect x="269.7" y="181.6" width="83.5" height="57.8" fill="#fff" stroke="#b8b8b8" stroke-width="0.5"/>
<clipPath id="cp2"><rect x="269.7" y="181.6" width="83.5" height="57.8"/></clipPath>
<g clip-path="url(#cp2)">
<path d="M267.85 236.69 L267.92 236.48 L268.01 236.23 L268.12 235.92 L268.24 235.58 L268.37 235.21 L268.52 234.81 L268.66 234.40 L268.81 233.98 L268.96 233.57 L269.11 233.16 L269.26 232.77 L269.40 232.41 L269.53 232.07 L269.66 231.75 L269.78 231.43 L269.91 231.13 L270.03 230.83 L270.15 230.53 L270.28 230.23 L270.41 229.93 L270.54 229.62 L270.67 229.30 L270.81 228.97 L270.95 228.62 L271.11 228.25 L271.27 227.86 L271.43 227.45 L271.61 227.02 L271.79 226.59 L271.97 226.14 L272.15 225.69 L272.34 225.25 L272.53 224.80 L272.72 224.36 L272.90 223.93 L273.09 223.51 L273.26 223.13 L273.42 222.76 L273.59 222.39 L273.75 222.02 L273.92 221.66 L274.09 221.29 L274.27 220.91 L274.46 220.53 L274.66 220.14 L274.87 219.75 L275.09 219.34 L275.33 218.92 L275.58 218.49 L275.85 218.05 L276.12 217.62 L276.40 217.19 L276.68 216.77 L276.96 216.34 L277.25 215.91 L277.54 215.48 L277.83 215.05 L278.12 214.62 L278.41 214.20 L278.70 213.77 L278.99 213.34 L279.28 212.89 L279.58 212.44 L279.88 211.97 L280.20 211.50 L280.51 211.03 L280.84 210.54 L281.17 210.06 L281.50 209.58 L281.85 209.09 L282.20 208.61 L282.55 208.13 L282.92 207.65 L283.29 207.18 L283.66 206.72 L284.03 206.28 L284.40 205.83 L284.76 205.40 L285.13 204.97 L285.49 204.55 L285.85 204.13 L286.20 203.71 L286.54 203.30 L286.87 202.90 L287.18 202.51 L287.49 202.11 L287.80 201.69 L288.12 201.26 L288.45 200.82 L288.80 200.35 L289.16 199.87 L289.55 199.38 L289.97 198.88 L290.42 198.38 L290.90 197.87 L291.40 197.37 L291.92 196.88 L292.44 196.41 L292.99 195.93 L293.55 195.46 L294.13 194.99 L294.72 194.52 L295.31 194.07 L295.91 193.62 L296.52 193.20 L297.12 192.79 L297.72 192.40 L298.30 192.05 L298.82 191.73 L299.32 191.44 L299.84 191.14 L300.38 190.85 L300.94 190.56 L301.54 190.29 L302.16 190.03 L302.83 189.79 L303.53 189.59 L304.27 189.42 L305.03 189.29 L305.83 189.20 L306.66 189.17 L307.49 189.18 L308.30 189.23 L309.10 189.31 L309.89 189.41 L310.66 189.54 L311.43 189.68 L312.18 189.84 L312.92 190.00 L313.64 190.17 L314.35 190.34 L315.05 190.51 L315.78 190.70 L316.53 190.91 L317.27 191.13 L318.00 191.37 L318.72 191.61 L319.44 191.86 L320.16 192.12 L320.86 192.38 L321.57 192.65 L322.26 192.92 L322.95 193.19 L323.65 193.46 L324.36 193.75 L325.07 194.05 L325.79 194.35 L326.50 194.66 L327.22 194.98 L327.93 195.30 L328.63 195.62 L329.34 195.95 L330.04 196.28 L330.74 196.61 L331.43 196.94 L332.13 197.28 L332.85 197.63 L333.56 197.99 L334.27 198.35 L334.97 198.72 L335.65 199.08 L336.33 199.44 L337.01 199.79 L337.67 200.15 L338.33 200.49 L338.97 200.82 L339.61 201.15 L340.25 201.47 L340.90 201.78 L341.56 202.10 L342.22 202.42 L342.88 202.73 L343.54 203.04 L344.21 203.35 L344.88 203.67 L345.55 203.98 L346.23 204.30 L346.92 204.62 L347.61 204.94 L348.31 205.26 L349.03 205.60 L349.80 205.95 L350.61 206.32 L351.44 206.70 L352.27 207.08 L353.08 207.46 L353.87 207.82 L354.62 208.16 L355.31 208.48 L355.92 208.76 L356.45 209.00 L356.87 209.19 L351.13 220.41 L350.74 220.19 L350.24 219.90 L349.65 219.57 L348.99 219.20 L348.28 218.80 L347.52 218.37 L346.73 217.92 L345.93 217.47 L345.13 217.01 L344.34 216.57 L343.59 216.14 L342.89 215.74 L342.22 215.36 L341.56 214.98 L340.91 214.60 L340.25 214.23 L339.59 213.85 L338.93 213.47 L338.27 213.09 L337.61 212.71 L336.95 212.32 L336.29 211.93 L335.62 211.54 L334.95 211.13 L334.26 210.72 L333.58 210.30 L332.92 209.88 L332.26 209.46 L331.61 209.05 L330.97 208.64 L330.33 208.23 L329.71 207.83 L329.09 207.44 L328.48 207.06 L327.88 206.69 L327.27 206.32 L326.64 205.95 L326.00 205.58 L325.37 205.21 L324.74 204.84 L324.10 204.48 L323.47 204.13 L322.85 203.78 L322.22 203.43 L321.60 203.10 L320.98 202.77 L320.37 202.45 L319.75 202.14 L319.12 201.82 L318.49 201.51 L317.86 201.20 L317.25 200.90 L316.64 200.61 L316.03 200.33 L315.44 200.05 L314.85 199.80 L314.27 199.55 L313.69 199.32 L313.13 199.10 L312.55 198.89 L311.93 198.68 L311.30 198.46 L310.67 198.26 L310.06 198.06 L309.46 197.88 L308.89 197.71 L308.34 197.56 L307.81 197.44 L307.33 197.34 L306.89 197.27 L306.50 197.22 L306.17 197.20 L305.85 197.19 L305.56 197.21 L305.27 197.24 L304.99 197.29 L304.70 197.36 L304.39 197.45 L304.05 197.57 L303.69 197.72 L303.29 197.89 L302.86 198.09 L302.39 198.32 L301.90 198.55 L301.43 198.79 L300.96 199.05 L300.46 199.33 L299.95 199.64 L299.42 199.96 L298.89 200.30 L298.37 200.66 L297.85 201.02 L297.35 201.38 L296.87 201.74 L296.41 202.10 L296.00 202.43 L295.63 202.75 L295.28 203.07 L294.95 203.40 L294.62 203.75 L294.29 204.11 L293.95 204.50 L293.62 204.90 L293.27 205.31 L292.91 205.75 L292.53 206.19 L292.14 206.65 L291.73 207.10 L291.32 207.54 L290.93 207.96 L290.53 208.37 L290.14 208.77 L289.75 209.17 L289.37 209.56 L289.00 209.95 L288.63 210.34 L288.27 210.72 L287.92 211.11 L287.58 211.49 L287.25 211.87 L286.92 212.27 L286.58 212.68 L286.25 213.09 L285.92 213.52 L285.59 213.95 L285.26 214.39 L284.93 214.83 L284.60 215.27 L284.28 215.71 L283.95 216.16 L283.62 216.60 L283.30 217.03 L282.98 217.46 L282.66 217.88 L282.34 218.30 L282.03 218.71 L281.72 219.11 L281.42 219.50 L281.13 219.89 L280.86 220.26 L280.59 220.63 L280.34 220.99 L280.10 221.34 L279.87 221.68 L279.66 222.02 L279.46 222.34 L279.27 222.66 L279.10 222.97 L278.92 223.29 L278.76 223.60 L278.59 223.92 L278.42 224.25 L278.26 224.59 L278.08 224.94 L277.90 225.31 L277.71 225.69 L277.53 226.07 L277.34 226.46 L277.14 226.86 L276.95 227.28 L276.75 227.70 L276.56 228.13 L276.36 228.56 L276.17 228.99 L275.98 229.40 L275.80 229.81 L275.62 230.20 L275.45 230.58 L275.28 230.94 L275.13 231.27 L274.98 231.59 L274.84 231.89 L274.70 232.18 L274.57 232.47 L274.44 232.75 L274.32 233.03 L274.19 233.31 L274.06 233.59 L273.93 233.89 L273.80 234.19 L273.66 234.52 L273.52 234.88 L273.36 235.26 L273.20 235.65 L273.04 236.06 L272.88 236.45 L272.73 236.84 L272.59 237.20 L272.45 237.54 L272.34 237.85 L272.23 238.11 L272.15 238.31 Z" fill="#dcdcdc"/>
<path d="M270.00 237.50 L270.08 237.30 L270.17 237.04 L270.29 236.73 L270.41 236.39 L270.55 236.02 L270.70 235.63 L270.85 235.23 L271.01 234.82 L271.16 234.41 L271.31 234.02 L271.46 233.65 L271.60 233.30 L271.73 232.98 L271.86 232.67 L271.99 232.37 L272.11 232.08 L272.24 231.79 L272.36 231.50 L272.49 231.21 L272.62 230.91 L272.76 230.60 L272.90 230.29 L273.05 229.95 L273.20 229.60 L273.36 229.23 L273.53 228.83 L273.71 228.42 L273.89 228.00 L274.07 227.57 L274.26 227.14 L274.45 226.70 L274.64 226.26 L274.84 225.83 L275.03 225.41 L275.21 225.00 L275.40 224.60 L275.58 224.22 L275.75 223.85 L275.92 223.49 L276.09 223.14 L276.26 222.79 L276.43 222.44 L276.60 222.10 L276.78 221.75 L276.97 221.40 L277.16 221.04 L277.37 220.68 L277.60 220.30 L277.84 219.91 L278.09 219.52 L278.35 219.13 L278.63 218.73 L278.91 218.33 L279.19 217.92 L279.49 217.51 L279.79 217.09 L280.09 216.67 L280.39 216.25 L280.70 215.83 L281.00 215.40 L281.31 214.97 L281.62 214.52 L281.93 214.08 L282.24 213.62 L282.56 213.17 L282.89 212.71 L283.21 212.25 L283.54 211.79 L283.88 211.33 L284.22 210.88 L284.56 210.44 L284.90 210.00 L285.25 209.57 L285.60 209.14 L285.96 208.72 L286.33 208.31 L286.70 207.89 L287.07 207.48 L287.44 207.07 L287.81 206.66 L288.19 206.25 L288.56 205.83 L288.93 205.42 L289.30 205.00 L289.66 204.58 L290.01 204.15 L290.35 203.72 L290.69 203.29 L291.03 202.86 L291.38 202.42 L291.72 201.99 L292.09 201.57 L292.46 201.14 L292.85 200.72 L293.26 200.31 L293.70 199.90 L294.16 199.49 L294.66 199.08 L295.17 198.66 L295.70 198.24 L296.25 197.82 L296.81 197.41 L297.37 197.01 L297.93 196.63 L298.49 196.26 L299.04 195.92 L299.58 195.59 L300.10 195.30 L300.60 195.03 L301.09 194.76 L301.57 194.51 L302.03 194.28 L302.50 194.07 L302.96 193.87 L303.43 193.69 L303.91 193.54 L304.40 193.41 L304.91 193.31 L305.44 193.24 L306.00 193.20 L306.58 193.19 L307.19 193.22 L307.81 193.28 L308.46 193.37 L309.11 193.49 L309.78 193.62 L310.45 193.78 L311.12 193.95 L311.80 194.13 L312.47 194.32 L313.14 194.51 L313.80 194.70 L314.45 194.90 L315.11 195.11 L315.77 195.34 L316.42 195.58 L317.08 195.83 L317.74 196.09 L318.40 196.36 L319.06 196.64 L319.72 196.92 L320.38 197.21 L321.04 197.51 L321.70 197.80 L322.36 198.10 L323.03 198.41 L323.70 198.72 L324.36 199.05 L325.03 199.38 L325.70 199.71 L326.37 200.05 L327.04 200.40 L327.70 200.74 L328.37 201.09 L329.04 201.45 L329.70 201.80 L330.36 202.16 L331.02 202.52 L331.68 202.90 L332.34 203.27 L332.99 203.65 L333.65 204.04 L334.31 204.42 L334.96 204.80 L335.62 205.18 L336.28 205.56 L336.94 205.93 L337.60 206.30 L338.26 206.66 L338.92 207.02 L339.58 207.37 L340.24 207.72 L340.91 208.07 L341.57 208.41 L342.23 208.76 L342.90 209.10 L343.57 209.45 L344.24 209.80 L344.92 210.15 L345.60 210.50 L346.31 210.87 L347.07 211.26 L347.87 211.67 L348.68 212.09 L349.50 212.50 L350.30 212.91 L351.08 213.31 L351.81 213.68 L352.48 214.03 L353.08 214.33 L353.59 214.59 L354.00 214.80" fill="none" stroke="#6a6a6a" stroke-width="0.65" stroke-dasharray="0.9 0.9"/>
</g>
<line x1="268.5" y1="236.00" x2="269.7" y2="236.00" stroke="#222" stroke-width="0.4"/>
<text x="268.0" y="236.80" font-size="2.7" font-weight="bold" text-anchor="end" font-family="Liberation Serif, serif" fill="#222">0.0</text>
<line x1="268.5" y1="225.72" x2="269.7" y2="225.72" stroke="#222" stroke-width="0.4"/>
<text x="268.0" y="226.52" font-size="2.7" font-weight="bold" text-anchor="end" font-family="Liberation Serif, serif" fill="#222">0.2</text>
<line x1="268.5" y1="215.44" x2="269.7" y2="215.44" stroke="#222" stroke-width="0.4"/>
<text x="268.0" y="216.24" font-size="2.7" font-weight="bold" text-anchor="end" font-family="Liberation Serif, serif" fill="#222">0.4</text>
<line x1="268.5" y1="205.16" x2="269.7" y2="205.16" stroke="#222" stroke-width="0.4"/>
<text x="268.0" y="205.96" font-size="2.7" font-weight="bold" text-anchor="end" font-family="Liberation Serif, serif" fill="#222">0.6</text>
<line x1="268.5" y1="194.88" x2="269.7" y2="194.88" stroke="#222" stroke-width="0.4"/>
<text x="268.0" y="195.68" font-size="2.7" font-weight="bold" text-anchor="end" font-family="Liberation Serif, serif" fill="#222">0.8</text>
<line x1="268.5" y1="184.60" x2="269.7" y2="184.60" stroke="#222" stroke-width="0.4"/>
<text x="268.0" y="185.40" font-size="2.7" font-weight="bold" text-anchor="end" font-family="Liberation Serif, serif" fill="#222">1.0</text>
<line x1="269.70" y1="239.4" x2="269.70" y2="240.4" stroke="#222" stroke-width="0.4"/>
<text x="269.70" y="242.7" font-size="2.7" font-weight="bold" text-anchor="middle" font-family="Liberation Serif, serif" fill="#222">0</text>
<line x1="278.05" y1="239.4" x2="278.05" y2="240.4" stroke="#222" stroke-width="0.4"/>
<text x="278.05" y="242.7" font-size="2.7" font-weight="bold" text-anchor="middle" font-family="Liberation Serif, serif" fill="#222">10</text>
<line x1="286.40" y1="239.4" x2="286.40" y2="240.4" stroke="#222" stroke-width="0.4"/>
<text x="286.40" y="242.7" font-size="2.7" font-weight="bold" text-anchor="middle" font-family="Liberation Serif, serif" fill="#222">20</text>
<line x1="294.75" y1="239.4" x2="294.75" y2="240.4" stroke="#222" stroke-width="0.4"/>
<text x="294.75" y="242.7" font-size="2.7" font-weight="bold" text-anchor="middle" font-family="Liberation Serif, serif" fill="#222">30</text>
<line x1="303.10" y1="239.4" x2="303.10" y2="240.4" stroke="#222" stroke-width="0.4"/>
<text x="303.10" y="242.7" font-size="2.7" font-weight="bold" text-anchor="middle" font-family="Liberation Serif, serif" fill="#222">40</text>
<line x1="311.45" y1="239.4" x2="311.45" y2="240.4" stroke="#222" stroke-width="0.4"/>
<text x="311.45" y="242.7" font-size="2.7" font-weight="bold" text-anchor="middle" font-family="Liberation Serif, serif" fill="#222">50</text>
<line x1="319.80" y1="239.4" x2="319.80" y2="240.4" stroke="#222" stroke-width="0.4"/>
<text x="319.80" y="242.7" font-size="2.7" font-weight="bold" text-anchor="middle" font-family="Liberation Serif, serif" fill="#222">60</text>
<line x1="328.15" y1="239.4" x2="328.15" y2="240.4" stroke="#222" stroke-width="0.4"/>
<text x="328.15" y="242.7" font-size="2.7" font-weight="bold" text-anchor="middle" font-family="Liberation Serif, serif" fill="#222">70</text>
<line x1="336.50" y1="239.4" x2="336.50" y2="240.4" stroke="#222" stroke-width="0.4"/>
<text x="336.50" y="242.7" font-size="2.7" font-weight="bold" text-anchor="middle" font-family="Liberation Serif, serif" fill="#222">80</text>
<line x1="344.85" y1="239.4" x2="344.85" y2="240.4" stroke="#222" stroke-width="0.4"/>
<text x="344.85" y="242.7" font-size="2.7" font-weight="bold" text-anchor="middle" font-family="Liberation Serif, serif" fill="#222">90</text>
<line x1="353.20" y1="239.4" x2="353.20" y2="240.4" stroke="#222" stroke-width="0.4"/>
<text x="353.20" y="242.7" font-size="2.7" font-weight="bold" text-anchor="middle" font-family="Liberation Serif, serif" fill="#222">100</text>
<rect x="272.05" y="235.55" width="1.3" height="1.3" fill="#e8262a"/>
<rect x="275.25" y="220.05" width="1.3" height="1.3" fill="#e8262a"/>
<rect x="274.45" y="225.25" width="1.3" height="1.3" fill="#e8262a"/>
<rect x="288.75" y="209.65" width="1.3" height="1.3" fill="#e8262a"/>
<rect x="311.15" y="209.65" width="1.3" height="1.3" fill="#e8262a"/>
<rect x="279.95" y="204.55" width="1.3" height="1.3" fill="#e8262a"/>
<rect x="292.25" y="204.55" width="1.3" height="1.3" fill="#e8262a"/>
<rect x="280.75" y="183.85" width="1.3" height="1.3" fill="#e8262a"/>
<rect x="290.25" y="188.85" width="1.3" height="1.3" fill="#e8262a"/>
<rect x="307.75" y="188.75" width="1.3" height="1.3" fill="#e8262a"/>
<rect x="279.85" y="199.05" width="1.3" height="1.3" fill="#e8262a"/>
<rect x="286.75" y="199.05" width="1.3" height="1.3" fill="#e8262a"/>
<rect x="300.55" y="199.05" width="1.3" height="1.3" fill="#e8262a"/>
<rect x="326.85" y="188.65" width="1.3" height="1.3" fill="#e8262a"/>
<rect x="346.65" y="204.55" width="1.3" height="1.3" fill="#e8262a"/>
<rect x="273.05" y="235.55" width="1.3" height="1.3" fill="#2f5fc0"/>
<rect x="273.15" y="220.05" width="1.3" height="1.3" fill="#2f5fc0"/>
<rect x="280.65" y="220.05" width="1.3" height="1.3" fill="#2f5fc0"/>
<rect x="288.75" y="220.05" width="1.3" height="1.3" fill="#2f5fc0"/>
<rect x="277.25" y="225.25" width="1.3" height="1.3" fill="#2f5fc0"/>
<rect x="282.95" y="225.25" width="1.3" height="1.3" fill="#2f5fc0"/>
<rect x="284.15" y="225.25" width="1.3" height="1.3" fill="#2f5fc0"/>
<rect x="276.85" y="214.75" width="1.3" height="1.3" fill="#2f5fc0"/>
<rect x="281.55" y="214.75" width="1.3" height="1.3" fill="#2f5fc0"/>
<rect x="284.25" y="214.75" width="1.3" height="1.3" fill="#2f5fc0"/>
<rect x="280.65" y="209.65" width="1.3" height="1.3" fill="#2f5fc0"/>
<rect x="317.75" y="209.65" width="1.3" height="1.3" fill="#2f5fc0"/>
<rect x="283.95" y="183.85" width="1.3" height="1.3" fill="#2f5fc0"/>
<rect x="298.55" y="183.85" width="1.3" height="1.3" fill="#2f5fc0"/>
<rect x="310.25" y="183.85" width="1.3" height="1.3" fill="#2f5fc0"/>
<rect x="293.45" y="188.85" width="1.3" height="1.3" fill="#2f5fc0"/>
<rect x="305.55" y="188.75" width="1.3" height="1.3" fill="#2f5fc0"/>
<rect x="313.05" y="188.65" width="1.3" height="1.3" fill="#2f5fc0"/>
<rect x="307.95" y="194.05" width="1.3" height="1.3" fill="#2f5fc0"/>
<rect x="296.25" y="199.05" width="1.3" height="1.3" fill="#2f5fc0"/>
<rect x="327.65" y="188.65" width="1.3" height="1.3" fill="#2f5fc0"/>
<rect x="323.85" y="204.55" width="1.3" height="1.3" fill="#2f5fc0"/>
<rect x="345.95" y="204.55" width="1.3" height="1.3" fill="#2f5fc0"/>
<rect x="327.45" y="214.85" width="1.3" height="1.3" fill="#2f5fc0"/>
<rect x="334.4" y="229.5" width="18.6" height="8.3" fill="#fff" stroke="#c4c4c4" stroke-width="0.4"/>
<rect x="336.7" y="231.2" width="1.3" height="1.3" fill="#e8262a"/><rect x="336.7" y="235.2" width="1.3" height="1.3" fill="#2f5fc0"/>
<text x="340.3" y="232.9" font-size="2.75" font-weight="bold" font-family="Liberation Serif, serif" fill="#5a5a5a"><tspan font-style="italic">d</tspan><tspan font-style="italic" font-size="2.1" dy="0.5">f</tspan><tspan dy="-0.5">/</tspan><tspan font-style="italic">d</tspan><tspan font-style="italic" font-size="2.1" dy="0.5">p</tspan><tspan dy="-0.5">=1.75</tspan></text>
<text x="340.3" y="236.9" font-size="2.75" font-weight="bold" font-family="Liberation Serif, serif" fill="#5a5a5a"><tspan font-style="italic">d</tspan><tspan font-style="italic" font-size="2.1" dy="0.5">f</tspan><tspan dy="-0.5">/</tspan><tspan font-style="italic">d</tspan><tspan font-style="italic" font-size="2.1" dy="0.5">p</tspan><tspan dy="-0.5">=1.88</tspan></text>
<text transform="translate(261.7 210.7) rotate(-90)" font-size="5.85" font-weight="bold" font-style="italic" text-anchor="middle" font-family="Liberation Serif, serif" fill="#0a0a0a" stroke="#0a0a0a" stroke-width="0.08">Interception rate</text>
<text x="312.9" y="247.7" font-size="5.6" font-weight="bold" font-style="italic" text-anchor="middle" font-family="Liberation Serif, serif" fill="#0a0a0a" stroke="#0a0a0a" stroke-width="0.08">Flow rate (mm/s)</text>
</svg></body></html>
